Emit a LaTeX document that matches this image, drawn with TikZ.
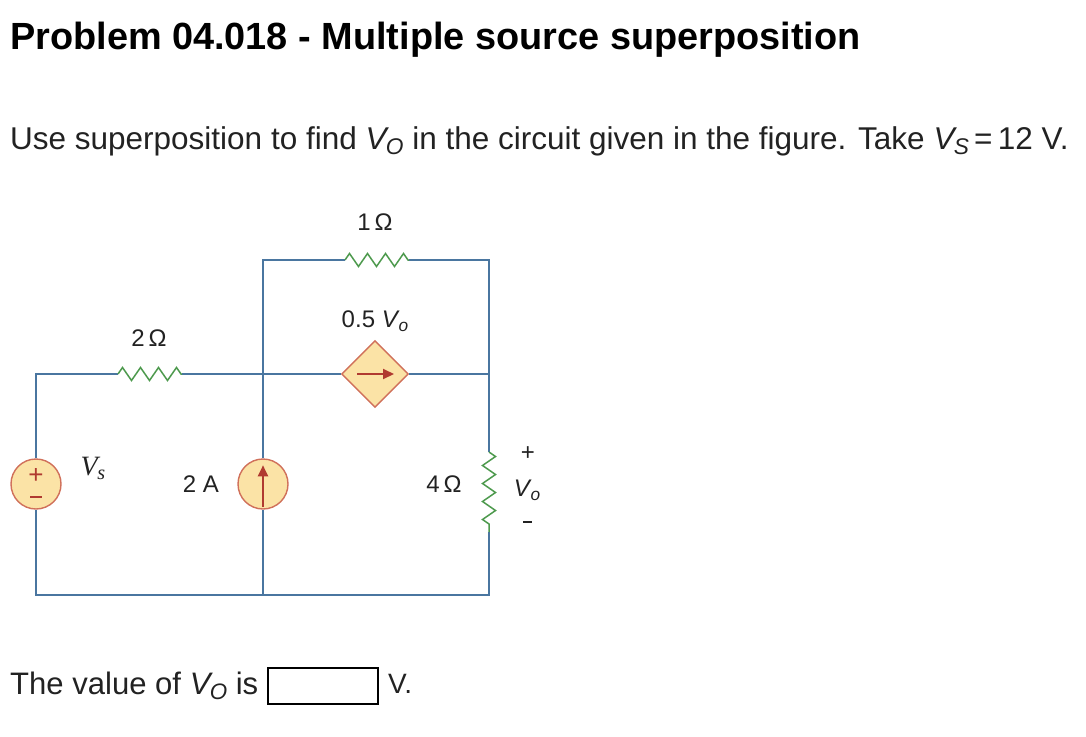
\documentclass[tikz,border=0pt]{standalone}
\usepackage{fontspec}
\setmainfont{Liberation Sans}
\newfontfamily\serifit{Liberation Serif}
\usetikzlibrary{decorations.pathmorphing,shapes.geometric,arrows.meta}
\definecolor{wire}{HTML}{4A76A0}
\definecolor{resc}{HTML}{4E9A4E}
\definecolor{srcfill}{HTML}{FBE3A6}
\definecolor{srcline}{HTML}{D0705A}
\definecolor{arr}{HTML}{B03A30}
\definecolor{txt}{HTML}{222222}
\newcommand{\Vsub}[1]{\textit{V}\kern-1pt\raisebox{-0.3ex}{\scalebox{0.72}{\textit{#1}}}}
\tikzset{
 wirel/.style={draw=wire,line width=1.6pt},
 resl/.style={draw=resc,line width=1.5pt,decorate,decoration={zigzag,segment length=18pt,amplitude=6.5pt}},
 srccirc/.style={circle,draw=srcline,fill=srcfill,line width=1.4pt,minimum size=50pt,inner sep=0pt},
 depsrc/.style={diamond,draw=srcline,fill=srcfill,line width=1.4pt,minimum size=67pt,inner sep=0pt},
 lab/.style={font=\fontsize{24}{26}\selectfont,text=txt,inner sep=0pt},
}
\begin{document}
\begin{tikzpicture}[x=1pt,y=-1pt]
\useasboundingbox (0,0) rectangle (1086,736);
\node[anchor=west,inner sep=0pt,text=black] (title) at (10,40) {\resizebox{850pt}{!}{\bfseries Problem 04.018 - Multiple source superposition}};
\node[anchor=west,inner sep=0pt,text=txt] (q) at (10,141) {\resizebox{1058pt}{!}{Use superposition to find \Vsub{O} in the circuit given in the figure. Take \Vsub{S}\,=\,12 V.}};
% coordinates
\coordinate (TL) at (36,374); \coordinate (BL) at (36,595);
\coordinate (TM) at (263,260); \coordinate (MM) at (263,374); \coordinate (BM) at (263,595);
\coordinate (TR) at (489,260); \coordinate (MR) at (489,374); \coordinate (BR) at (489,595);
\coordinate (r2a) at (118,374); \coordinate (r2b) at (182,374);
\coordinate (r1a) at (345,260); \coordinate (r1b) at (409,260);
\coordinate (r4a) at (489,452); \coordinate (r4b) at (489,532);
\node[srccirc] (vs) at (36,484) {};
\node[srccirc] (cs) at (263,484) {};
\node[depsrc] (ds) at (375,374) {};
% wires
\draw[wirel] (vs.north) -- (TL) -- (r2a);
\draw[wirel] (r2b) -- (MM) -- (ds.west);
\draw[wirel] (ds.east) -- (MR);
\draw[wirel] (cs.north) -- (TM) -- (r1a);
\draw[wirel] (r1b) -- (TR) -- (r4a);
\draw[wirel] (r4b) -- (BR) -- (BM) -- (BL) -- (vs.south);
\draw[wirel] (BM) -- (cs.south);
% resistors
\draw[resl] (r2a) -- (r2b);
\draw[resl] (r1a) -- (r1b);
\draw[resl] (r4a) -- (r4b);
% source symbols
\node[text=arr,font=\fontsize{26}{26}\selectfont,inner sep=0pt] at (36,476) {+};
\draw[arr,line width=1.4pt] (30,497) -- (42,497);
\draw[arr,line width=2pt,-{Triangle[length=11pt,width=10pt]}] ([yshift=3pt]cs.south) -- ([yshift=-7pt]cs.north);
\draw[arr,line width=2pt,-{Triangle[length=11pt,width=10pt]}] (357,374) -- (394,374);
% labels
\node[lab] (l1) at (375,222) {1\,Ω};
\node[lab] (l2) at (149,338) {2\,Ω};
\node[lab] (l05) at (375,321) {0.5 \Vsub{o}};
\node[lab] (l2a) at (201,484) {2 A};
\node[lab] (l4) at (444,484) {4\,Ω};
\node[lab,font=\fontsize{28}{28}\selectfont\serifit] (lvs) at (93,468) {\textit{V}\kern-3pt\raisebox{-0.3ex}{\scalebox{0.72}{\textit{s}}}};
\node[lab] (lp) at (528,454) {+};
\node[lab] (lvo) at (527,490) {\Vsub{o}};
\draw[txt,line width=1.5pt] (523,522) -- (532,522);
% answer
\node[anchor=west,inner sep=0pt,text=txt] (ans) at (10,686) {\resizebox{248pt}{!}{The value of \Vsub{O} is}};
\node[draw=black,line width=1.5pt,minimum width=110pt,minimum height=36pt,inner sep=0pt] (box) at (323,686) {};
\node[anchor=west,inner sep=0pt,text=txt,font=\fontsize{28}{30}\selectfont] (vunit) at (388,684) {V.};
\end{tikzpicture}
\end{document}
